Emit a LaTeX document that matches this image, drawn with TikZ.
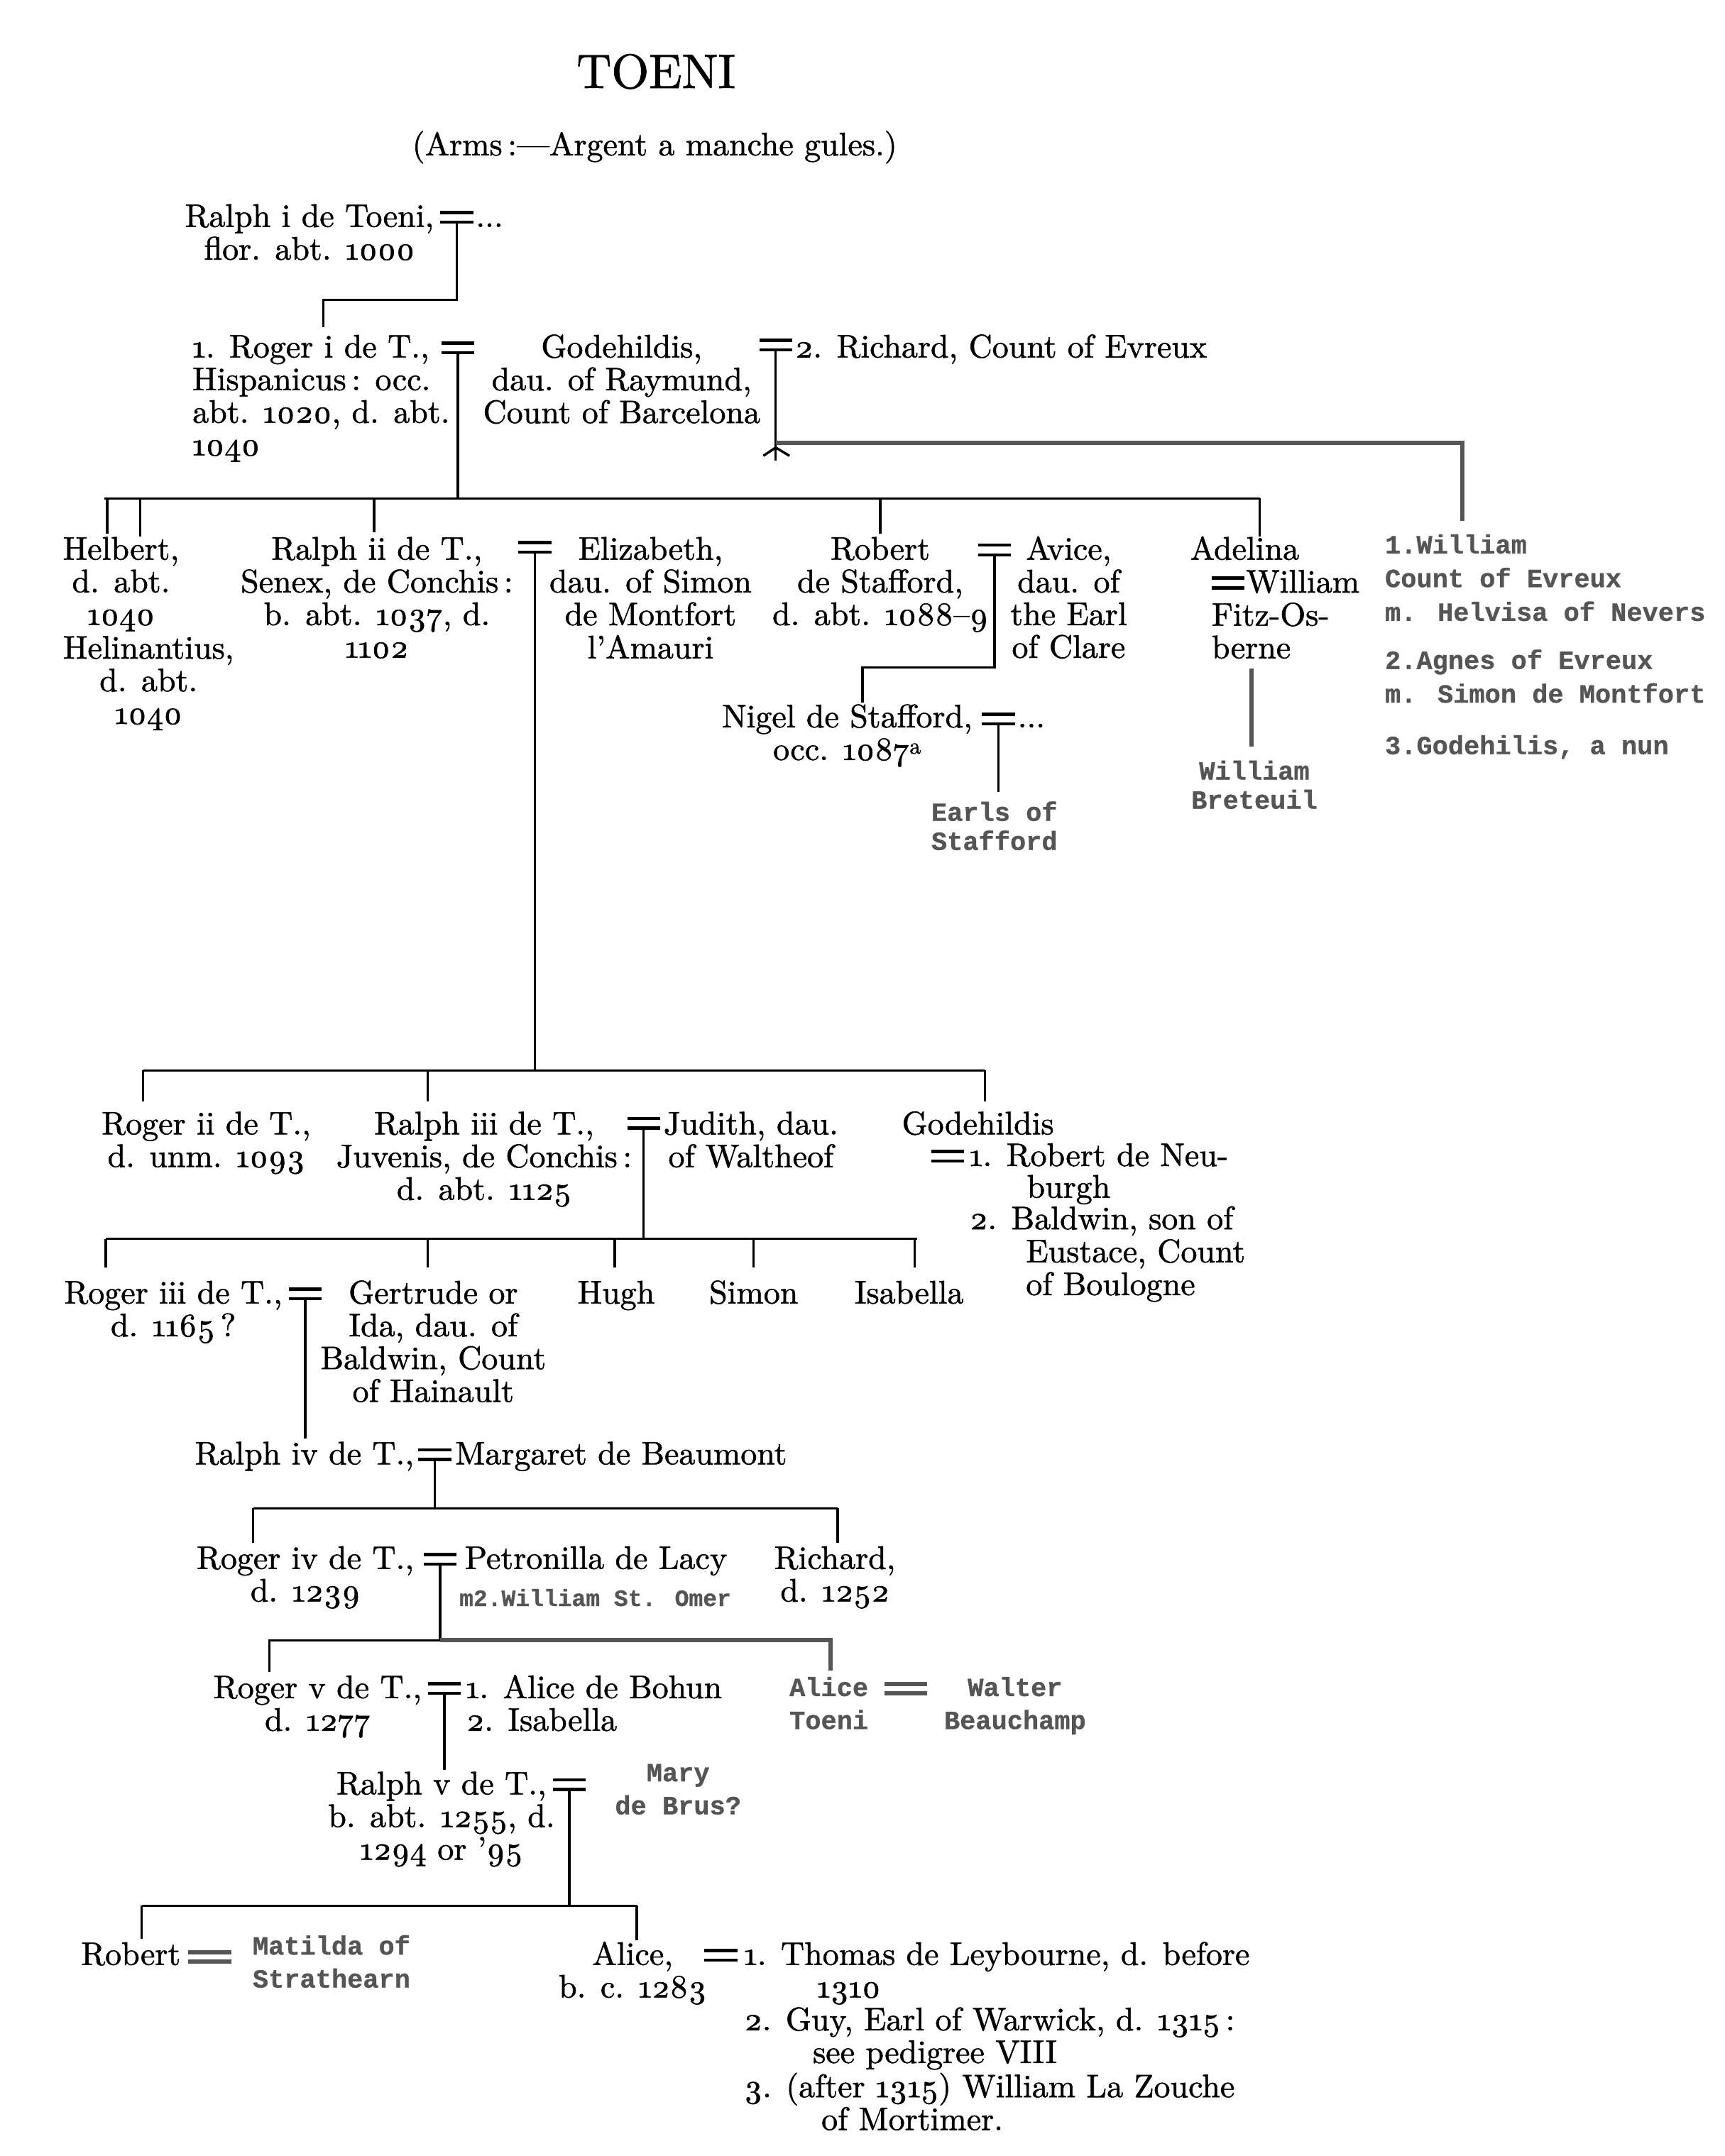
\documentclass[tikz,border=0pt]{standalone}
\usepackage{fontspec}
\setmainfont{lmroman10-regular.otf}[Numbers=OldStyle,FakeBold=1.2]
\newfontfamily\gmono{Liberation Mono}[BoldFeatures={FakeBold=0.8}]
\definecolor{gtone}{RGB}{85,85,85}
\newcommand\fsmain{\fontsize{46}{46}\selectfont\bfseries}
\newcommand\tcen[1]{\begin{tabular}[t]{@{}c@{}}#1\end{tabular}}
\newcommand\tlef[1]{\begin{tabular}[t]{@{}l@{}}#1\end{tabular}}
\begin{document}
\begin{tikzpicture}[x=1.9378pt,y=-1.9378pt,
  txt/.style={inner sep=0pt,outer sep=0pt,font=\fsmain,anchor=base},
  txtw/.style={txt,anchor=base west},
  txte/.style={txt,anchor=base east},
  gtxt/.style={inner sep=0pt,outer sep=0pt,text=gtone,font={\gmono\bfseries\fontsize{37}{46.5}\selectfont},anchor=base},
  gtxtw/.style={gtxt,anchor=base west},
  ln/.style={line width=3.4pt},
  gln/.style={line width=6pt,draw=gtone},
  mbar/.style={line width=4.5pt},
  gbar/.style={line width=6pt,draw=gtone},
  pics/marr/.style={code={\draw[mbar] (-12,-3.5)--(12,-3.5) (-12,3.5)--(12,3.5);}},
]
\fill[white] (0,0) rectangle (1254,1568);
\useasboundingbox (0,0) rectangle (1254,1568);

% title
\node[txt,font=\fontsize{68}{68}\selectfont\bfseries] (title) at (477,64) {TOENI};
\node[txt] (arms) at (476,113) {(Arms\,:—Argent a manche gules.)};

% Ralph i
\node[txt] (ralph1) at (225,165) {\tcen{Ralph i de Toeni,\\flor. abt. 1000}};
\coordinate (m1) at (332,158); \pic at (m1) {marr};
\node[txtw] (dots1) at (346,165) {...};
\coordinate (c1) at (235,238);
\draw[ln] (m1) ++(0,3.5) |- (c1 |- 0,218) -- (c1);

% Roger i generation
\node[txtw] (roger1) at (140,260) {\tlef{1. Roger i de T.,\\Hispanicus\,: occ.\\abt. 1020, d. abt.\\1040}};
\coordinate (m2) at (333,253); \pic at (m2) {marr};
\node[txt] (godeh1) at (452,260) {\tcen{Godehildis,\\dau. of Raymund,\\Count of Barcelona}};
\coordinate (m3) at (564,251); \pic at (m3) {marr};
\node[txtw] (richard1) at (578,260) {2. Richard, Count of Evreux};
\coordinate (m3b) at (564,335);
\draw[ln] (m3) ++(0,3.5) -- (m3b);
\draw[ln] (555,331.5) -- (564,325.5) -- (574,331.5);
\coordinate (ev) at (1063,379);
\draw[gln] (564,322) -| (ev);

% Roger i children
\coordinate (b1) at (333,362.5);
\draw[ln] (m2) ++(0,3.5) -- (b1);
\draw[ln] (76,362.5) -- (916,362.5);
\foreach \xx/\yy in {78/388,102/390,272/387,640/388,916/390}
  \draw[ln] (\xx,362.5) -- (\xx,\yy);

\node[txt] (helbert) at (88,407) {\tcen{Helbert,\\d. abt.\\1040}};
\node[txt] (helin) at (108,479) {\tcen{Helinantius,\\d. abt.\\1040}};
\node[txt] (ralph2) at (274,407) {\tcen{Ralph ii de T.,\\Senex, de Conchis\,:\\b. abt. 1037, d.\\1102}};
\coordinate (m4) at (389,398); \pic at (m4) {marr};
\node[txt] (eliz) at (473,407) {\tcen{Elizabeth,\\dau. of Simon\\de Montfort\\l'Amauri}};
\node[txt] (robert1) at (640,407) {\tcen{Robert\\de Stafford,\\d. abt. 1088–9}};
\coordinate (m5) at (723,400); \pic at (m5) {marr};
\node[txt] (avice) at (777,407) {\tcen{Avice,\\dau. of\\the Earl\\of Clare}};
\coordinate (c5) at (627,511);
\draw[ln] (m5) ++(0,3.5) |- (c5 |- 0,485.5) -- (c5);
\node[txt] (adelina) at (905,407) {Adelina};
\coordinate (m5a) at (893,424); \pic at (m5a) {marr};
\node[txtw] (fitzw) at (906,431) {William};
\node[txtw] (fitzo) at (881,455) {\tlef{Fitz-Os-\\berne}};
\coordinate (bret) at (910,543);
\draw[gln] (910,486) -- (bret);
\node[gtxt,font={\gmono\bfseries\fontsize{37}{41}\selectfont}] (breteuil) at (912,567) {\tcen{William\\Breteuil}};

% Nigel
\node[txt] (nigel) at (616,529) {\tcen{Nigel de Stafford,\\occ. 1087\textsuperscript{a}}};
\coordinate (m6) at (726,523); \pic at (m6) {marr};
\node[txtw] (dots2) at (740,529) {...};
\coordinate (c6) at (726,576);
\draw[ln] (m6) ++(0,3.5) -- (c6);
\node[gtxt,font={\gmono\bfseries\fontsize{37}{41}\selectfont}] (earls) at (723,597) {\tcen{Earls of\\Stafford}};

% right gray block
\node[gtxtw,font={\gmono\bfseries\fontsize{37}{47.5}\selectfont}] (g1) at (1007,402.5) {\tlef{1.William\\Count of Evreux\\m. Helvisa of Nevers}};
\node[gtxtw,font={\gmono\bfseries\fontsize{37}{47.5}\selectfont}] (g2) at (1007,486.5) {\tlef{2.Agnes of Evreux\\m. Simon de Montfort}};
\node[gtxtw] (g3) at (1007,548.5) {3.Godehilis, a nun};

% Ralph ii children
\coordinate (b2) at (389,778.5);
\draw[ln] (m4) ++(0,3.5) -- (b2);
\draw[ln] (104,778.5) -- (716,778.5);
\foreach \xx in {104,311,716}
  \draw[ln] (\xx,778.5) -- (\xx,801);

\node[txt] (roger2) at (150,825) {\tcen{Roger ii de T.,\\d. unm. 1093}};
\node[txt] (ralph3) at (352,825) {\tcen{Ralph iii de T.,\\Juvenis, de Conchis\,:\\d. abt. 1125}};
\coordinate (m7) at (468,817); \pic at (m7) {marr};
\node[txt] (judith) at (546,825) {\tcen{Judith, dau.\\of Waltheof}};
\node[txt] (godeh2) at (711,825) {Godehildis};
\coordinate (m7a) at (689,841); \pic at (m7a) {marr};
\node[txtw] (goa) at (705,848) {1. Robert de Neu-};
\node[txt] (gob) at (777,871) {burgh};
\node[txtw] (goc) at (705,894) {2. Baldwin, son of};
\node[txtw] (god) at (746,918) {\tlef{Eustace, Count\\of Boulogne}};

% Ralph iii children
\coordinate (b3) at (468,901);
\draw[ln] (m7) ++(0,3.5) -- (b3);
\draw[ln] (77,901) -- (667,901);
\foreach \xx in {77,311,447,548,665}
  \draw[ln] (\xx,901) -- (\xx,922);

\node[txt] (roger3) at (126,948) {\tcen{Roger iii de T.,\\d. 1165\,?}};
\coordinate (m8) at (222,941); \pic at (m8) {marr};
\node[txt] (gertrude) at (315,948) {\tcen{Gertrude or\\Ida, dau. of\\Baldwin, Count\\of Hainault}};
\node[txt] (hugh) at (448,948) {Hugh};
\node[txt] (simon) at (548,948) {Simon};
\node[txt] (isabella) at (661,948) {Isabella};

% Ralph iv
\coordinate (c8) at (222,1046);
\draw[ln] (m8) ++(0,3.5) -- (c8);
\node[txte] (ralph4) at (301,1065) {Ralph iv de T.,};
\coordinate (m9) at (316,1058); \pic at (m9) {marr};
\node[txtw] (margaret) at (331,1065) {Margaret de Beaumont};
\coordinate (b4) at (316,1097);
\draw[ln] (m9) ++(0,3.5) -- (b4);
\draw[ln] (184,1097) -- (609,1097);
\foreach \xx in {184,609}
  \draw[ln] (\xx,1097) -- (\xx,1122);

% Roger iv
\node[txt] (roger4) at (222,1141) {\tcen{Roger iv de T.,\\d. 1239}};
\coordinate (m10) at (320,1134); \pic at (m10) {marr};
\node[txtw] (petro) at (338,1141) {Petronilla de Lacy};
\node[gtxtw,font={\gmono\bfseries\fontsize{33}{40}\selectfont}] (omer) at (334,1168) {m2.William St. Omer};
\node[txt] (richard2) at (607,1141) {\tcen{Richard,\\d. 1252}};
\coordinate (b5) at (320,1193);
\draw[ln] (m10) ++(0,3.5) -- (b5);
\draw[ln] (b5) -- (196,1193) -- (196,1216);
\coordinate (c5g) at (604,1215);
\draw[gln] (b5) -| (c5g);

% Roger v
\node[txt] (roger5) at (231,1235) {\tcen{Roger v de T.,\\d. 1277}};
\coordinate (m11) at (323,1228); \pic at (m11) {marr};
\node[txtw] (bohun) at (339,1235) {\tlef{1. Alice de Bohun\\2. Isabella}};
\node[gtxtw] (alicet) at (574,1233.5) {\tlef{Alice\\Toeni}};
\draw[gbar] (643,1225) -- (674,1225) (643,1231.5) -- (674,1231.5);
\node[gtxt] (walter) at (738,1233.5) {\tcen{Walter\\Beauchamp}};
\coordinate (c11) at (323,1287);
\draw[ln] (m11) ++(0,3.5) -- (c11);

% Ralph v
\node[txt] (ralph5) at (321,1305) {\tcen{Ralph v de T.,\\b. abt. 1255, d.\\1294 or '95}};
\coordinate (m12) at (414,1298); \pic at (m12) {marr};
\node[gtxt] (mary) at (493,1295.5) {\tcen{Mary\\de Brus?}};
\coordinate (b6) at (414,1386);
\draw[ln] (m12) ++(0,3.5) -- (b6);
\draw[ln] (103,1386) -- (463,1386);
\draw[ln] (103,1386) -- (103,1410);
\draw[ln] (463,1386) -- (463,1411);

% last generation
\node[txtw] (robert2) at (59,1429) {Robert};
\draw[gbar] (137,1420) -- (168,1420) (137,1426.5) -- (168,1426.5);
\node[gtxt] (matilda) at (241,1421.5) {\tcen{Matilda of\\Strathearn}};
\node[txt] (alice2) at (460,1429) {\tcen{Alice,\\b. c. 1283}};
\coordinate (m13) at (524,1422); \pic at (m13) {marr};
\node[txtw] (husb) at (541,1429) {\tlef{1. Thomas de Leybourne, d. before\\\hspace*{103pt}1310\\2. Guy, Earl of Warwick, d. 1315\,:\\\hspace*{97pt}see pedigree VIII\\3. (after 1315) William La Zouche\\\hspace*{109pt}of Mortimer.}};
\end{tikzpicture}
\end{document}
